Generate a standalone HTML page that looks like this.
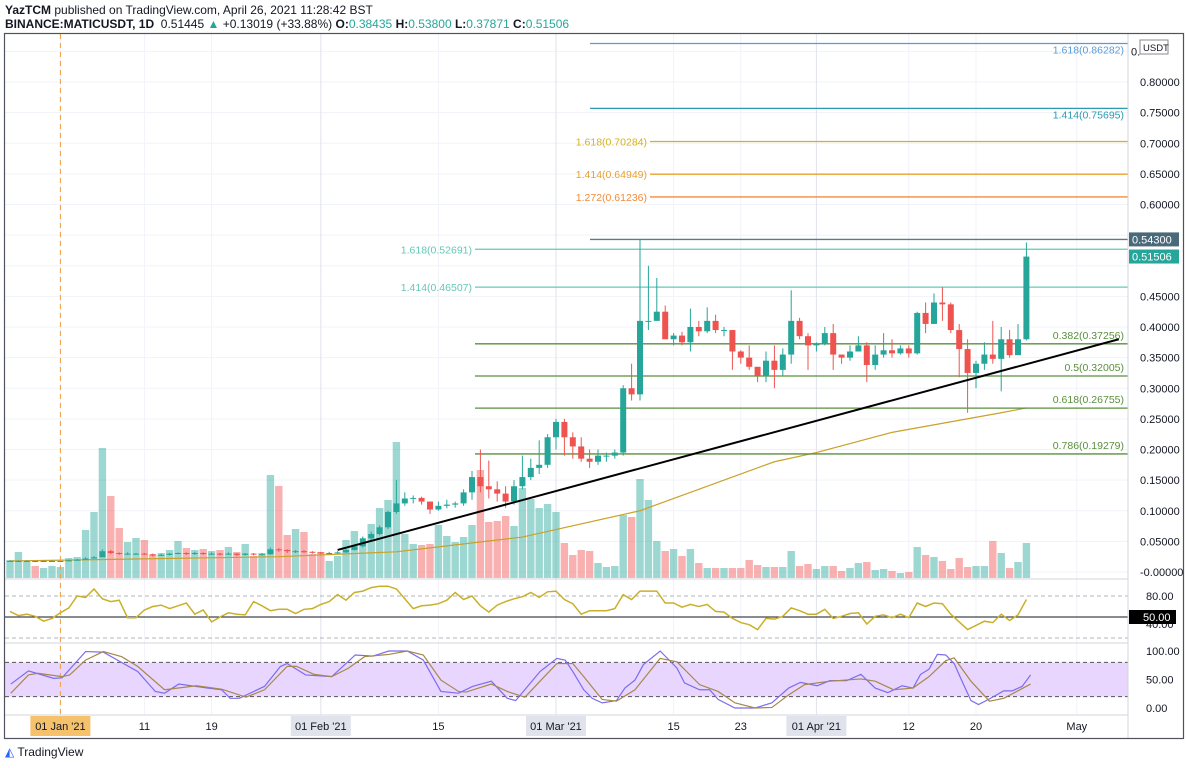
<!DOCTYPE html>
<html><head><meta charset="utf-8">
<style>
body{margin:0;background:#fff;font-family:"Liberation Sans",sans-serif;}
#wrap{position:relative;width:1186px;height:768px;overflow:hidden;background:#fff;}
.hdr{position:absolute;left:5px;font-size:12px;color:#131722;white-space:nowrap;}
.teal{color:#26a69a}
svg text{font-family:"Liberation Sans",sans-serif;}
</style></head><body>
<div id="wrap">
<div class="hdr" style="top:3px"><b>YazTCM</b> published on TradingView.com, April 26, 2021 11:28:42 BST</div>
<div class="hdr" style="top:17px"><b>BINANCE:MATICUSDT, 1D</b>&nbsp; 0.51445 <span class="teal">▲</span> +0.13019 (+33.88%) <b>O:</b><span class="teal">0.38435</span> <b>H:</b><span class="teal">0.53800</span> <b>L:</b><span class="teal">0.37871</span> <b>C:</b><span class="teal">0.51506</span></div>
<svg id="chart" width="1186" height="768" style="position:absolute;left:0;top:0"></svg>
<div style="position:absolute;left:5px;top:745px;font-size:12px;color:#131722"><span style="color:#2962ff">◭</span> TradingView</div>
</div>
<script>
const closes=[.018,.018,.018,.017,.018,.018,.018,.019,.020,.022,.024,
.034,.031,.030,.030,.030,.029,.027,.028,.030,.031,.030,.031,.030,.030,.029,.030,.028,.030,.029,.029,
.037,.036,.034,.034,.033,.032,.031,.031,.032,.036,.042,.055,.062,.073,.098,.112,.12,.121,.115,.102,
.108,.11,.112,.13,.155,.14,.135,.128,.115,.14,.155,.17,.175,.22,.245,.22,.205,.185,.18,.19,
.19,.195,.30,.29,.41,.41,.425,.38,.386,.375,.40,.393,.41,.395,.395,.36,.35,.335,.32,.345,
.33,.355,.41,.385,.37,.372,.39,.355,.35,.36,.37,.338,.355,.362,.357,.365,.357,.423,.405,.44,
.437,.395,.364,.325,.34,.355,.348,.38,.354,.38,.515];
const highs=[.019,.019,.019,.018,.019,.019,.019,.020,.021,.024,.026,
.037,.036,.032,.032,.031,.031,.03,.03,.031,.032,.032,.033,.032,.032,.031,.032,.031,.031,.031,.031,
.04,.039,.037,.036,.036,.034,.033,.033,.034,.038,.045,.058,.066,.076,.1,.15,.13,.125,.123,.115,
.115,.118,.115,.135,.165,.2,.182,.148,.14,.15,.19,.185,.215,.225,.25,.25,.228,.22,.2,.2,
.195,.2,.305,.34,.543,.5,.48,.435,.39,.392,.43,.41,.432,.42,.4,.37,.362,.37,.33,.36,
.37,.365,.46,.415,.39,.375,.4,.405,.355,.37,.385,.375,.37,.39,.38,.37,.37,.425,.44,.455,
.465,.44,.405,.38,.345,.375,.41,.4,.395,.405,.538];
const lows=[.017,.017,.017,.016,.017,.017,.017,.018,.019,.020,.022,
.024,.029,.028,.028,.028,.028,.025,.026,.027,.029,.028,.028,.028,.028,.027,.028,.026,.027,.027,.027,
.028,.033,.031,.031,.031,.03,.029,.029,.03,.031,.035,.04,.052,.06,.07,.095,.108,.112,.11,.095,
.1,.104,.105,.108,.118,.13,.12,.115,.105,.11,.135,.15,.16,.17,.2,.19,.185,.18,.17,.175,
.18,.185,.19,.28,.28,.395,.41,.38,.37,.37,.36,.385,.39,.39,.385,.33,.34,.33,.31,.31,
.3,.32,.34,.38,.33,.36,.37,.33,.34,.345,.36,.31,.33,.35,.35,.355,.35,.355,.39,.405,
.41,.39,.318,.26,.3,.33,.34,.295,.35,.36,.378];
const firstOpen=.018;
const volumes=[18,26,16,12,10,12,11,20,21,48,66,130,82,50,36,40,38,23,25,28,37,30,28,29,27,28,31,26,34,22,25,103,92,43,49,46,24,26,17,22,38,47,35,54,70,78,136,44,34,33,34,
53,42,36,41,53,108,56,57,62,52,90,79,70,74,66,35,23,28,27,15,11,12,63,61,99,78,37,27,29,22,29,15,10,10,10,10,10,18,13,11,
11,11,27,12,14,9,12,12,7,10,15,16,8,9,7,5,6,31,23,21,17,9,20,11,12,12,37,25,10,16,35];
const maDays=[0,32,46,51,61,75,91,96,105,118,121];
const maVals=[.018,.025,.033,.041,.057,.10,.18,.195,.228,.26,.268];
const rsiVals=[58,52,54,51,44,48,56,63,80,78,90,76,72,74,49,49,60,65,67,62,66,70,54,60,43,50,56,54,53,72,66,59,61,61,55,61,62,68,72,82,74,85,87,92,94,94,90,76,62,66,67,69,74,85,75,80,66,57,67,72,76,79,85,
78,86,87,75,69,54,59,59,59,62,82,75,87,87,87,70,70,64,68,65,68,58,57,48,42,39,32,48,47,51,63,59,54,54,61,48,51,55,56,40,51,53,49,54,49,70,65,70,69,54,43,32,38,44,42,54,45,53,75];
const kDays=[0.1,2.2,5.2,6.2,9,11.1,15.2,17.3,18.4,20.1,23.5,25.2,26.2,27.3,30.3,32.2,33,35.2,38.3,41.1,43.2,45.1,47.3,49.2,51.3,53.4,55.1,57.3,59.2,60.2,63.1,65.1,66.1,67,68.3,69.3,70.5,72.2,73.2,74.4,75.4,77.4,79.4,80.3,82.1,83.3,84.3,86.3,88.7,90.7,92.7,94.1,96.1,97.6,99.6,101.3,103,104.5,106.2,107.5,108.4,109.4,110.4,111.4,112.4,113.4,114.4,115.3,116.6,118.3,119.3,120.5,121.5];
const kVals=[42,65,52,53,99,98,64,29,26,42,35,32,17,17,38,73,78,58,55,93,91,100,100,84,29,26,38,47,17,13,64,87,84,64,32,17,9,13,35,49,76,100,70,44,32,32,15,0,0,9,35,45,39,48,48,59,35,27,39,35,59,68,94,93,78,45,13,6,16,30,30,38,58];
const dDays=[0.1,2.2,3.3,6.2,7.1,9,11.1,13.3,15.2,18.4,22.2,25.2,28.1,30.3,33,34.1,36.2,38.3,40.3,42.2,45.1,47.3,49.2,51.3,53.4,54.3,57.3,59.2,61.3,63.1,65.1,67,68.3,70.5,72.2,74.4,77.4,79.4,82.1,84.3,86.3,88.7,90.7,92.7,94.6,97.6,101.3,103,105.2,107.5,109.4,111.4,112.4,114.4,116.6,118.3,121.5];
const dVals=[26,58,61,55,58,84,99,90,73,32,39,33,19,32,73,73,59,55,70,90,94,100,93,49,29,28,42,29,19,47,78,78,55,15,12,32,87,81,41,29,9,0,1,23,41,47,51,47,32,35,55,83,88,47,12,17,42];
const priceTicks=[0.8,0.75,0.7,0.65,0.6,0.45,0.4,0.35,0.3,0.25,0.2,0.15,0.1,0.05,0];
const fibPrices=[0.86282,0.75695,0.70284,0.64949,0.61236,0.52691,0.46507,0.37256,0.32005,0.26755,0.19279];
const fibLabels=["1.618(0.86282)","1.414(0.75695)","1.618(0.70284)","1.414(0.64949)","1.272(0.61236)","1.618(0.52691)","1.414(0.46507)","0.382(0.37256)","0.5(0.32005)","0.618(0.26755)","0.786(0.19279)"];
const timeDays=[6,16,24,37,51,65,79,87,96,107,115,127];
const timeLabels=["01 Jan '21","11","19","01 Feb '21","15","01 Mar '21","15","23","01 Apr '21","12","20","May"];

const NS="http://www.w3.org/2000/svg";
const svg=document.getElementById('chart');
const X=i=>10+i*8.4;
const Y=p=>572-p*612.5;
const RY=v=>617-(v-50)*0.7;
const SY=v=>708-v*0.57;
function mk(tag,at,parent){const e=document.createElementNS(NS,tag);for(const k in at)e.setAttribute(k,at[k]);(parent||svg).appendChild(e);return e;}
function txt(s,x,y,at){const e=mk('text',Object.assign({x:x,y:y,'font-size':11,fill:'#131722'},at||{}));e.textContent=s;return e;}

for(const p of priceTicks.concat([0.55,0.5,0.85])){const l=mk('line',{x1:5,x2:1128,y1:Y(p),y2:Y(p),stroke:'#f0f3fa'});

}
for(const d of timeDays){const l=mk('line',{x1:X(d),x2:X(d),y1:34,y2:715,stroke:(d==37||d==65||d==96)?'#e0e3eb':'#f0f3fa'});

}
const band=mk('rect',{x:5,y:SY(80),width:1123,height:SY(20)-SY(80),fill:'#e6d2ff',opacity:0.9});


volumes.forEach((v,i)=>{const o=i?closes[i-1]:firstOpen;const up=closes[i]>=o;
const r=mk('rect',{x:X(i)-3.7,y:578-v,width:7.4,height:v,fill:up?'rgba(38,166,154,0.45)':'rgba(239,83,80,0.45)'});

});
let mp='';maDays.forEach((d,k)=>{mp+=(k?'L':'M')+X(d)+','+Y(maVals[k]);});
const ma=mk('path',{d:mp,fill:'none',stroke:'#c9a227','stroke-width':1.2});


const fibX1=[590,590,650,650,650,475,475,475,475,475,475];
const fibCol=['#5b9bd5','#2a9bb0','#d4b21e','#e8a033','#f08c3c','#64c8b8','#64c8b8','#5a8f3c','#5a8f3c','#5a8f3c','#5a8f3c'];
fibPrices.forEach((p,k)=>{const y=Y(p);
const l=mk('line',{x1:fibX1[k],x2:1128,y1:y,y2:y,stroke:fibCol[k],'stroke-width':1.3});


let t;
if(k<2){t=txt(fibLabels[k],1124,y+10,{'text-anchor':'end',fill:fibCol[k],'font-size':10.5});}
else if(k>6){t=txt(fibLabels[k],1124,y-5,{'text-anchor':'end',fill:fibCol[k],'font-size':10.5});}
else{t=txt(fibLabels[k],fibX1[k]-3,y+4,{'text-anchor':'end',fill:fibCol[k],'font-size':10.5});}

});
const hl=mk('line',{x1:590,x2:1128,y1:Y(0.543),y2:Y(0.543),stroke:'#5d7a8a','stroke-width':1.3});


closes.forEach((c,i)=>{const o=i?closes[i-1]:firstOpen;const up=c>=o;const col=up?'#26a69a':'#ef5350';
const h=Math.max(highs[i],o,c),l=Math.min(lows[i],o,c);
const g=mk('g',{});


mk('line',{x1:X(i),x2:X(i),y1:Y(h),y2:Y(l),stroke:col,'stroke-width':1},g);
const top=Y(Math.max(o,c)),bh=Math.max(1,Math.abs(Y(o)-Y(c)));
mk('rect',{x:X(i)-3,y:top,width:6,height:bh,fill:col},g);});
const tl=mk('line',{x1:X(39),y1:Y(0.036),x2:X(132),y2:Y(0.38),stroke:'#000','stroke-width':2});


const jd=mk('line',{x1:X(6),x2:X(6),y1:34,y2:715,stroke:'#f0a040','stroke-dasharray':'5,4'});


[80,20].forEach(v=>{const l=mk('line',{x1:5,x2:1128,y1:RY(v),y2:RY(v),stroke:'#b2b5be','stroke-dasharray':'4,3'});

});
const r50=mk('line',{x1:5,x2:1128,y1:RY(50),y2:RY(50),stroke:'#131722','stroke-width':1});


let rp='';rsiVals.forEach((v,i)=>{rp+=(i?'L':'M')+X(i)+','+RY(v);});
const rl=mk('path',{d:rp,fill:'none',stroke:'#c9b02a','stroke-width':1.5});


[80,20].forEach(v=>{const l=mk('line',{x1:5,x2:1128,y1:SY(v),y2:SY(v),stroke:'#555','stroke-dasharray':'4,3'});

});
let kp='';kDays.forEach((d,k)=>{kp+=(k?'L':'M')+X(d)+','+SY(kVals[k]);});
const kl=mk('path',{d:kp,fill:'none',stroke:'#7b6cf0','stroke-width':1.2});


let dp='';dDays.forEach((d,k)=>{dp+=(k?'L':'M')+X(d)+','+SY(dVals[k]);});
const dl=mk('path',{d:dp,fill:'none',stroke:'#a8884a','stroke-width':1.2});


[[5,579,1128,579],[5,643,1128,643],[5,715,1128,715],[1128,34,1128,738]].forEach(a=>{const l=mk('line',{x1:a[0],y1:a[1],x2:a[2],y2:a[3],stroke:'#d1d4dc'});

});
const fr=mk('rect',{x:4.5,y:33.5,width:1179,height:705,fill:'none',stroke:'#50535e','stroke-width':1.2});


priceTicks.forEach(p=>{const t=txt(p===0?'-0.00000':p.toFixed(5),1140,Y(p)+4);

});
const t0=txt('0.',1131,Y(0.85)+4);


const ub=mk('rect',{x:1140,y:40,width:28,height:14,fill:'#fff',stroke:'#888'});


const ut=txt('USDT',1143,51,{'font-size':9.5});


[[0.543,'0.54300','#4a6a7a'],[0.51506,'0.51506','#26a69a']].forEach(a=>{const y=Y(a[0]);
const r=mk('rect',{x:1129,y:y-7,width:50,height:14,fill:a[2]});


const t=txt(a[1],1132,y+4,{fill:'#fff'});

});
const r80=txt('80.00',1146,RY(80)+4);
const r40=txt('40.00',1146,RY(40)+4);
const rb=mk('rect',{x:1129,y:RY(50)-7,width:47,height:14,fill:'#000'});
const rbt=txt('50.00',1143,RY(50)+4,{fill:'#fff'});
[100,50,0].forEach(v=>{const t=txt(v.toFixed(2),1146,SY(v)+4);

});
timeLabels.forEach((s,k)=>{const x=X(timeDays[k]);const big=s.length>4;
if(big){const r=mk('rect',{x:x-30,y:716,width:60,height:20,fill:k==0?'#f5c26b':'#e0e3eb'});

}
const t=txt(s,x,730,{'text-anchor':'middle'});

});
</script>
</body></html>
